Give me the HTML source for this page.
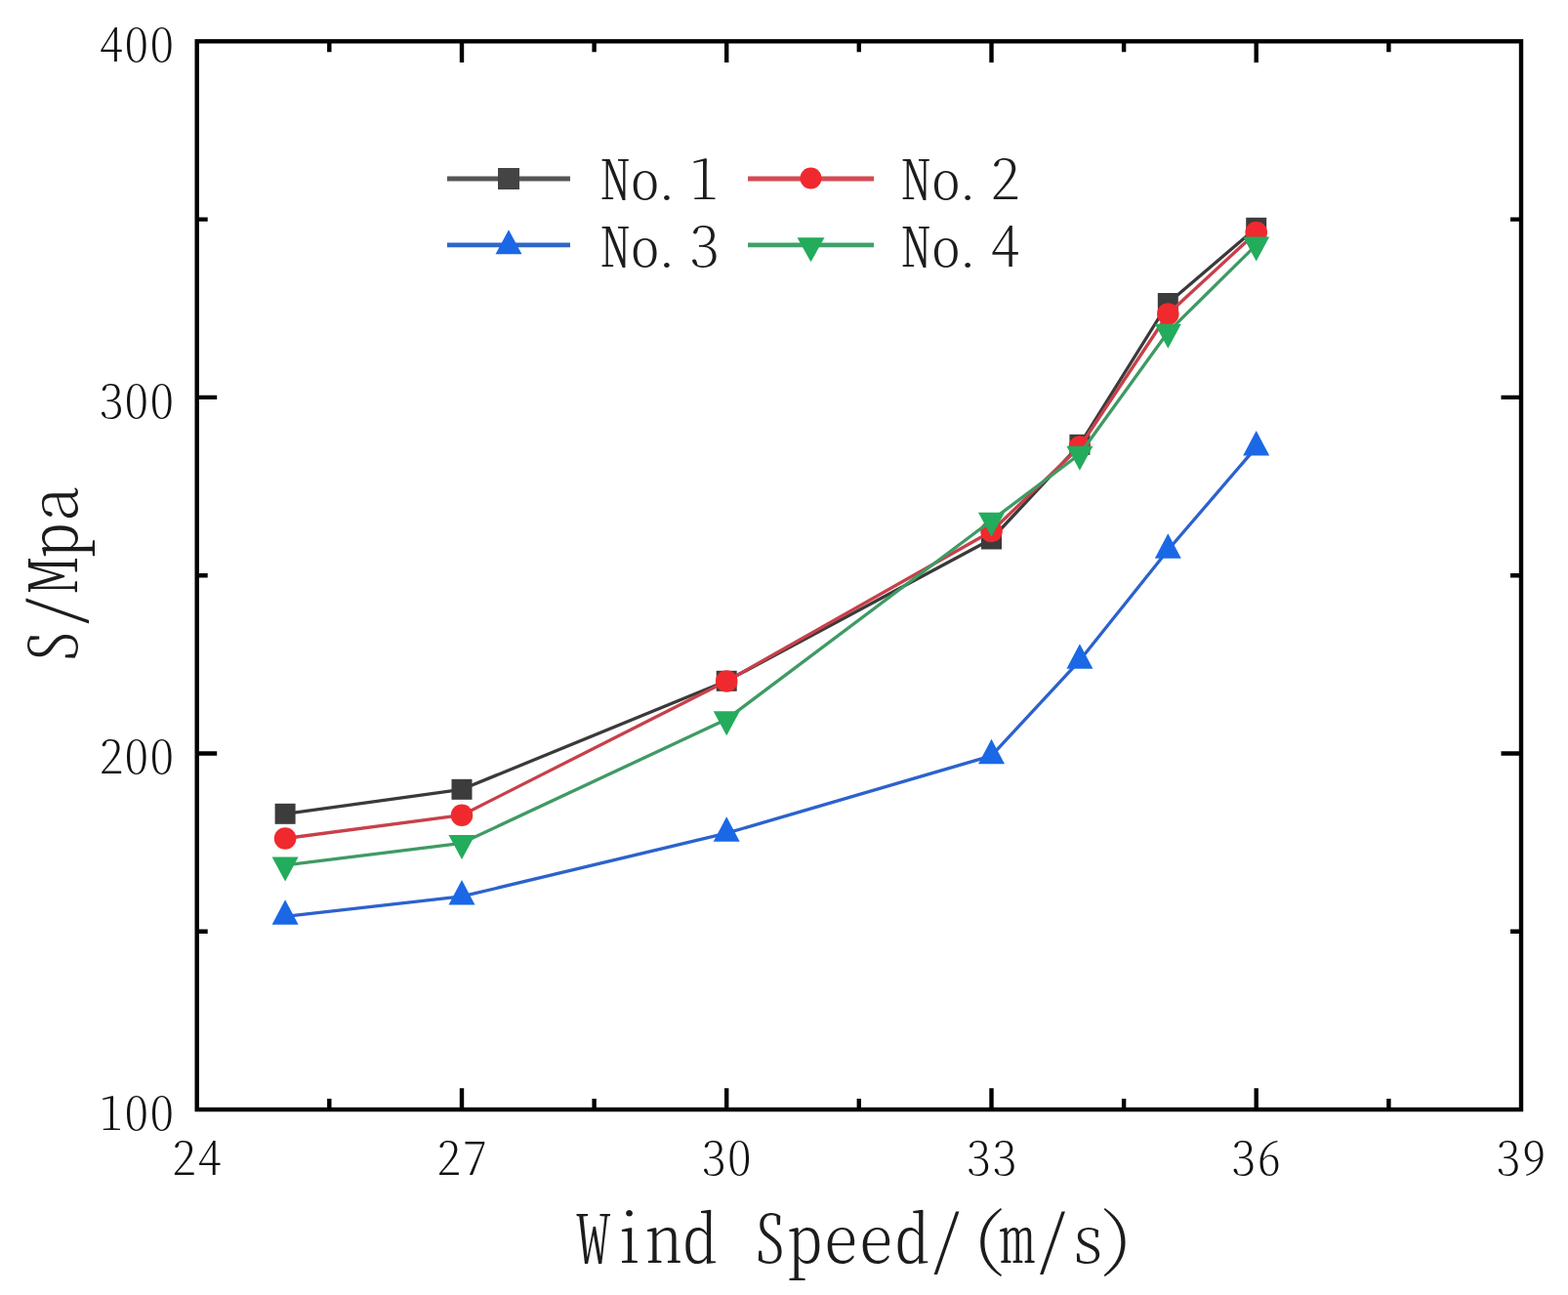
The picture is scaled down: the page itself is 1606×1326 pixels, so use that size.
<!DOCTYPE html>
<html><head><meta charset="utf-8"><title>Wind speed vs stress</title>
<style>
html,body{margin:0;padding:0;background:#fff;}
svg{display:block;}
text{font-family:"Noto Serif CJK SC","Liberation Serif",serif;font-feature-settings:"hwid" 1;font-weight:200;fill:#1c1c1c;}
text.tl{font-weight:200;fill:#111;}
</style></head><body>
<svg width="1606" height="1326" viewBox="0 0 1606 1326">
<rect width="1606" height="1326" fill="#fff"/>
<path d="M473.0,1136.1v-21.8M473.0,42.3v21.8M744.2,1136.1v-21.8M744.2,42.3v21.8M1015.5,1136.1v-21.8M1015.5,42.3v21.8M1286.7,1136.1v-21.8M1286.7,42.3v21.8M337.3,1136.1v-11M337.3,42.3v11M608.6,1136.1v-11M608.6,42.3v11M879.8,1136.1v-11M879.8,42.3v11M1151.1,1136.1v-11M1151.1,42.3v11M1422.4,1136.1v-11M1422.4,42.3v11M201.7,771.5h20.5M1558.0,771.5h-20.5M201.7,406.9h20.5M1558.0,406.9h-20.5M201.7,953.8h11M1558.0,953.8h-11M201.7,589.2h11M1558.0,589.2h-11M201.7,224.6h11M1558.0,224.6h-11" stroke="#000" stroke-width="4.4" fill="none"/>
<rect x="201.7" y="42.3" width="1356.3" height="1093.8" fill="none" stroke="#000" stroke-width="4.4"/>
<polyline points="292.1,833.3 473.0,808.3 744.2,697.3 1015.5,552.0 1105.9,455.3 1196.3,310.5 1286.7,233.3" fill="none" stroke="#3a3a3a" stroke-width="3.3" stroke-linejoin="round"/>
<rect x="281.6" y="822.8" width="21" height="21" fill="#3c3c3c"/>
<rect x="462.5" y="797.8" width="21" height="21" fill="#3c3c3c"/>
<rect x="733.7" y="686.8" width="21" height="21" fill="#3c3c3c"/>
<rect x="1005.0" y="541.5" width="21" height="21" fill="#3c3c3c"/>
<rect x="1095.4" y="444.8" width="21" height="21" fill="#3c3c3c"/>
<rect x="1185.8" y="300.0" width="21" height="21" fill="#3c3c3c"/>
<rect x="1276.2" y="222.8" width="21" height="21" fill="#3c3c3c"/>
<polyline points="292.1,858.5 473.0,834.7 744.2,697.5 1015.5,544.0 1105.9,457.5 1196.3,321.5 1286.7,238.0" fill="none" stroke="#c8404a" stroke-width="3.3" stroke-linejoin="round"/>
<circle cx="292.1" cy="858.5" r="11.3" fill="#f0292e"/>
<circle cx="473.0" cy="834.7" r="11.3" fill="#f0292e"/>
<circle cx="744.2" cy="697.5" r="11.3" fill="#f0292e"/>
<circle cx="1015.5" cy="544.0" r="11.3" fill="#f0292e"/>
<circle cx="1105.9" cy="457.5" r="11.3" fill="#f0292e"/>
<circle cx="1196.3" cy="321.5" r="11.3" fill="#f0292e"/>
<circle cx="1286.7" cy="238.0" r="11.3" fill="#f0292e"/>
<polyline points="292.1,938.3 473.0,917.9 744.2,853.2 1015.5,773.8 1105.9,676.3 1196.3,563.3 1286.7,457.9" fill="none" stroke="#2c62cc" stroke-width="3.3" stroke-linejoin="round"/>
<polygon points="292.1,921.3 305.6,946.8 278.6,946.8" fill="#1a68e6"/>
<polygon points="473.0,900.9 486.5,926.4 459.5,926.4" fill="#1a68e6"/>
<polygon points="744.2,836.2 757.7,861.7 730.7,861.7" fill="#1a68e6"/>
<polygon points="1015.5,756.8 1029.0,782.3 1002.0,782.3" fill="#1a68e6"/>
<polygon points="1105.9,659.3 1119.4,684.8 1092.4,684.8" fill="#1a68e6"/>
<polygon points="1196.3,546.3 1209.8,571.8 1182.8,571.8" fill="#1a68e6"/>
<polygon points="1286.7,440.9 1300.2,466.4 1273.2,466.4" fill="#1a68e6"/>
<polyline points="292.1,885.8 473.0,863.3 744.2,736.5 1015.5,533.0 1105.9,465.0 1196.3,340.0 1286.7,250.8" fill="none" stroke="#3f9a64" stroke-width="3.3" stroke-linejoin="round"/>
<polygon points="278.6,877.5 305.6,877.5 292.1,902.5" fill="#22ac5c"/>
<polygon points="459.5,855.0 486.5,855.0 473.0,880.0" fill="#22ac5c"/>
<polygon points="730.7,728.2 757.7,728.2 744.2,753.2" fill="#22ac5c"/>
<polygon points="1002.0,524.7 1029.0,524.7 1015.5,549.7" fill="#22ac5c"/>
<polygon points="1092.4,456.7 1119.4,456.7 1105.9,481.7" fill="#22ac5c"/>
<polygon points="1182.8,331.7 1209.8,331.7 1196.3,356.7" fill="#22ac5c"/>
<polygon points="1273.2,242.5 1300.2,242.5 1286.7,267.5" fill="#22ac5c"/>
<path d="M458,183H584" stroke="#555" stroke-width="4.8"/>
<rect x="510.0" y="172.0" width="22" height="22" fill="#444"/>
<path d="M766,183H895" stroke="#d44a54" stroke-width="4.8"/>
<circle cx="830.5" cy="182.5" r="11" fill="#f0292e"/>
<path d="M458,250.8H584" stroke="#2f66c8" stroke-width="4.8"/>
<polygon points="521.0,235.3 534.5,260.3 507.5,260.3" fill="#1a68e6"/>
<path d="M766,250.8H895" stroke="#40a06a" stroke-width="4.8"/>
<polygon points="816.5,243.2 844.5,243.2 830.5,268.2" fill="#22ac5c"/>
<text transform="translate(0,204.0) scale(1,0.9)" x="630.3 660.7 682.9 721.5" y="0" font-size="60.6" text-anchor="middle">No.1</text>
<text transform="translate(0,204.0) scale(1,0.9)" x="938.5 968.9 991.1 1029.7" y="0" font-size="60.6" text-anchor="middle">No.2</text>
<text transform="translate(0,273.3) scale(1,0.9)" x="630.3 660.7 682.9 721.5" y="0" font-size="60.6" text-anchor="middle">No.3</text>
<text transform="translate(0,273.3) scale(1,0.9)" x="938.5 968.9 991.1 1029.7" y="0" font-size="60.6" text-anchor="middle">No.4</text>
<text transform="translate(0,1156.9) scale(1,0.93)" x="114.1 139.9 165.8" y="0" font-size="49.2" text-anchor="middle" class="tl">100</text>
<text transform="translate(0,792.3) scale(1,0.93)" x="114.1 139.9 165.8" y="0" font-size="49.2" text-anchor="middle" class="tl">200</text>
<text transform="translate(0,427.7) scale(1,0.93)" x="114.1 139.9 165.8" y="0" font-size="49.2" text-anchor="middle" class="tl">300</text>
<text transform="translate(0,63.1) scale(1,0.93)" x="114.1 139.9 165.8" y="0" font-size="49.2" text-anchor="middle" class="tl">400</text>
<text transform="translate(0,1203.0) scale(1,0.93)" x="188.5 214.9" y="0" font-size="49.2" text-anchor="middle" class="tl">24</text>
<text transform="translate(0,1203.0) scale(1,0.93)" x="459.8 486.2" y="0" font-size="49.2" text-anchor="middle" class="tl">27</text>
<text transform="translate(0,1203.0) scale(1,0.93)" x="731.0 757.4" y="0" font-size="49.2" text-anchor="middle" class="tl">30</text>
<text transform="translate(0,1203.0) scale(1,0.93)" x="1002.3 1028.7" y="0" font-size="49.2" text-anchor="middle" class="tl">33</text>
<text transform="translate(0,1203.0) scale(1,0.93)" x="1273.5 1299.9" y="0" font-size="49.2" text-anchor="middle" class="tl">36</text>
<text transform="translate(0,1203.0) scale(1,0.93)" x="1544.8 1571.2" y="0" font-size="49.2" text-anchor="middle" class="tl">39</text>
<text transform="translate(0,1292.5) scale(1,0.95)" x="607.6 643.8 680.0 716.2 752.4 788.6 824.8 861.0 897.2 933.4 969.6 1011.8 1042.0 1078.2 1114.4 1145.0" y="0" font-size="70.5" text-anchor="middle">Wind Speed/(m/s)</text>
<text transform="translate(78.5,679.85) rotate(-90) scale(1,0.95)" x="18.1 54.4 90.8 127.0 163.3" y="0" font-size="70.5" text-anchor="middle">S/Mpa</text>
</svg></body></html>
